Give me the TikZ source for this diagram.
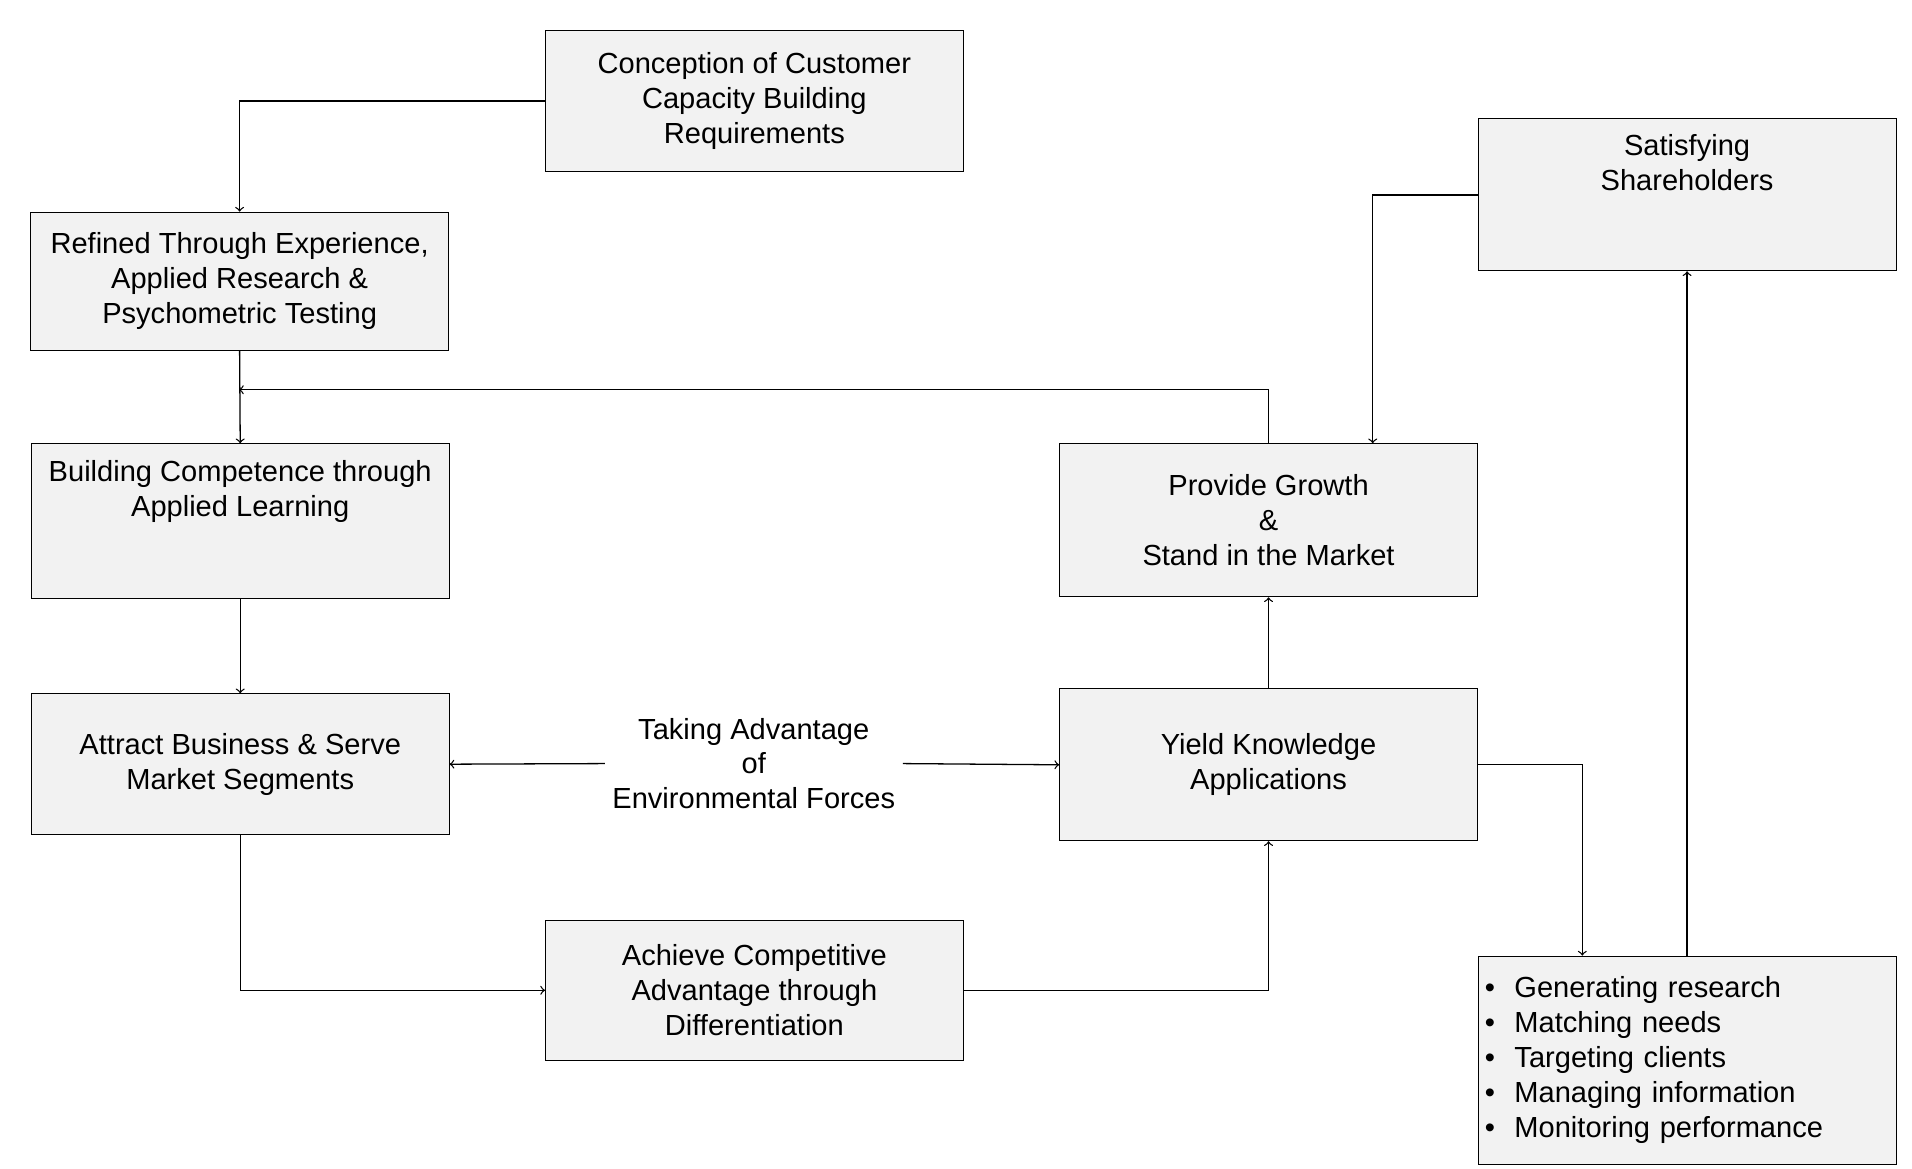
\documentclass[tikz,border=0pt]{standalone}
\usepackage{fontspec}
\setmainfont{Liberation Sans}
\usetikzlibrary{positioning}
\tikzset{
  box/.style={draw, fill=gray!10, minimum width=6.82cm, align=center, inner sep=2pt},
  link/.style={->, semithick},
}
\begin{document}
\begin{tikzpicture}[x=0.02cm, y=-0.02cm, font=\fontsize{13.5}{16.2}\selectfont]
\useasboundingbox (0,0) rectangle (1560,953);
% boxes
\node[box, minimum height=2.3cm] (conc) at (615.5,82.5) {Conception of Customer\\Capacity Building\\Requirements};
\node[box, minimum height=2.26cm] (refined) at (195.5,229.5) {Refined Through Experience,\\Applied Research \&\\Psychometric Testing};
\node[box, minimum height=2.52cm] (build) at (196,425) {Building Competence through\\Applied Learning\\[14pt]};
\node[box, minimum height=2.3cm] (attract) at (196,623.5) {Attract Business \& Serve\\Market Segments};
\node[box, minimum height=2.28cm] (achieve) at (615.5,808) {Achieve Competitive\\Advantage through\\Differentiation};
\node[box, minimum height=2.5cm] (provide) at (1035,424.5) {Provide Growth\\\&\\Stand in the Market};
\node[box, minimum height=2.48cm] (yield) at (1035,624) {Yield Knowledge\\Applications};
\node[box, minimum height=2.48cm] (satisfy) at (1376.5,159) {Satisfying\\Shareholders\\[14pt]};
\node[box, minimum height=3.4cm, align=left, text width=6.6cm] (tasks) at (1376.5,865)
  {\textbullet\ \ Generating research\\\textbullet\ \ Matching needs\\\textbullet\ \ Targeting clients\\\textbullet\ \ Managing information\\\textbullet\ \ Monitoring performance};
\node[align=center] (env) at (615,623) {Taking Advantage\\of\\Environmental Forces};
\coordinate (join) at (195,318);
% connectors
\draw[link] (conc.west) -| (refined.north);
\draw[link] (refined.south) -- (build.north);
\draw[link] (provide.north) |- (join);
\draw[link] (build.south) -- (attract.north);
\draw[link] (env.west) -- (attract.east);
\draw[link] (env.east) -- (yield.west);
\draw[link] (attract.south) |- (achieve.west);
\draw[link] (achieve.east) -| (yield.south);
\draw[link] (yield.north) -- (provide.south);
\draw[link] (satisfy.west) -| ([xshift=1.7cm]provide.north);
\draw[link] (yield.east) -| ([xshift=-1.71cm]tasks.north);
\draw[link] (tasks.north) -- (satisfy.south);
\end{tikzpicture}
\end{document}
